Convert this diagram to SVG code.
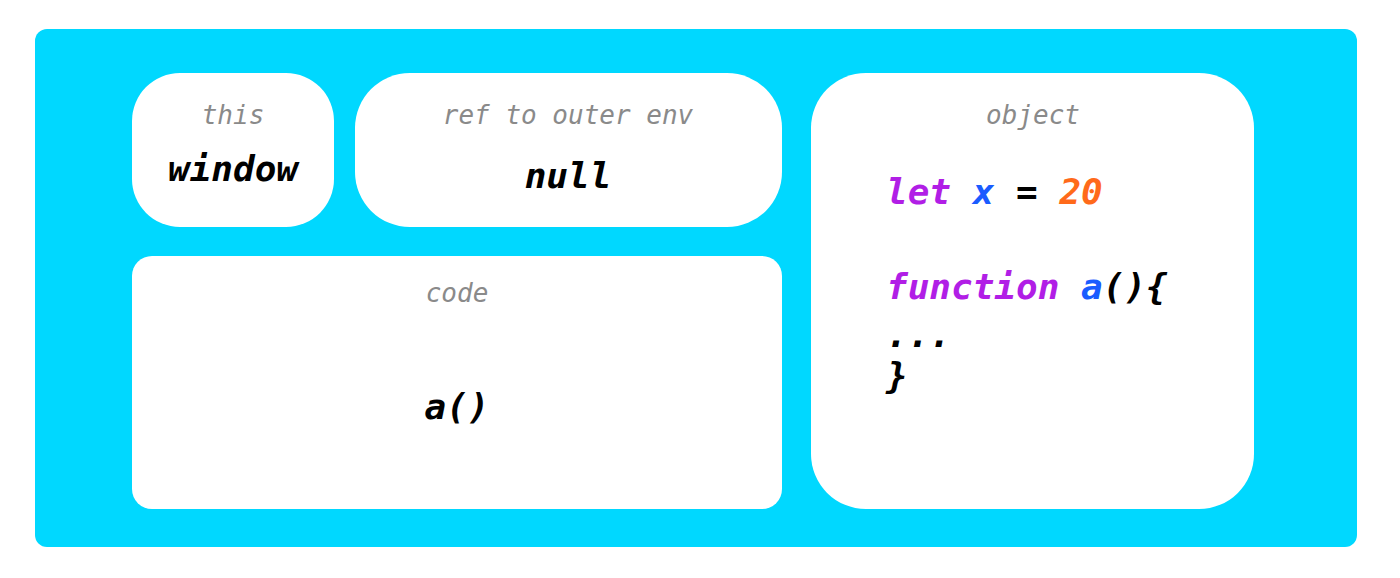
<svg xmlns="http://www.w3.org/2000/svg" width="1400" height="578" viewBox="0 0 1400 578">
<style>
.box{fill:#fff}
.lbl{font-family:"DejaVu Sans Mono",monospace;font-style:italic;font-size:26px;fill:#8a8a8a;text-anchor:middle}
.val{font-family:"DejaVu Sans Mono",monospace;font-style:italic;font-weight:bold;font-size:36px;fill:#000}
.kw{fill:#b11ee6}.id{fill:#1a5cff}.num{fill:#ff6a1a}
</style>
<rect x="0" y="0" width="1400" height="578" fill="#fff"/>
<rect x="35" y="29" width="1322" height="518" rx="12" fill="#00d8ff"/>
<g id="this"><rect class="box" x="132" y="73" width="202" height="154" rx="48"/>
<text class="lbl" x="233" y="124">this</text><text class="val" x="233" y="181" text-anchor="middle">window</text></g>
<g id="outer"><rect class="box" x="355" y="73" width="427" height="154" rx="55"/>
<text class="lbl" x="568" y="124">ref to outer env</text><text class="val" x="568" y="188" text-anchor="middle">null</text></g>
<g id="code"><rect class="box" x="132" y="256" width="650" height="253" rx="20"/>
<text class="lbl" x="457" y="302">code</text><text class="val" x="457" y="419" text-anchor="middle">a()</text></g>
<g id="object"><rect class="box" x="811" y="73" width="443" height="436" rx="55"/>
<text class="lbl" x="1033" y="124">object</text>
<text class="val" x="886" y="204"><tspan class="kw">let</tspan> <tspan class="id">x</tspan> = <tspan class="num">20</tspan></text>
<text class="val" x="886" y="299"><tspan class="kw">function</tspan> <tspan class="id">a</tspan>(){</text>
<text class="val" x="886" y="347">...</text>
<text class="val" x="886" y="388">}</text></g>
<g id="connectors"/>
</svg>
